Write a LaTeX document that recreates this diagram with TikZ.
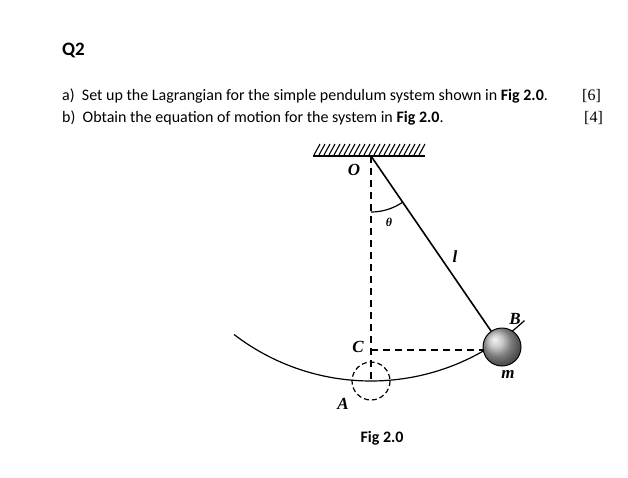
\documentclass[tikz,border=0pt]{standalone}
\usepackage{fontspec}
\setmainfont{Carlito}
\newfontfamily\serifc{Liberation Serif}
\begin{document}
\begin{tikzpicture}[x=1pt,y=-1pt,
  lbl/.style={font=\serifc\bfseries\itshape\fontsize{17}{17}\selectfont},
  txt/.style={anchor=west,font=\fontsize{16}{18}\selectfont,inner sep=0pt}]
\useasboundingbox (0,0) rectangle (628,477);
\node[txt,font=\fontsize{19}{20}\selectfont\bfseries] (q) at (62,50) {Q2};
\node[txt] (a) at (62,96) {a)\ \ Set up the Lagrangian for the simple pendulum system shown in \textbf{Fig 2.0}.};
\node[txt] (b) at (62,118) {b)\ \ Obtain the equation of motion for the system in \textbf{Fig 2.0}.};
\node[txt,font=\serifc\fontsize{16}{18}\selectfont] (m6) at (582,96) {[6]};
\node[txt,font=\serifc\fontsize{16}{18}\selectfont] (m4) at (584,118) {[4]};
% ceiling
\coordinate (O) at (371,156);
\draw[line width=1.6pt] (313,156) -- (425,156);
\foreach \i in {0,...,21} \draw[line width=1.1pt] (314+5*\i,155) -- (320+5*\i,144);
% dashed vertical
\coordinate (Cp) at (371,350);
\coordinate (A) at (371,381);
\coordinate (B) at (502,347);
\draw[dash pattern=on 7pt off 5pt,line width=1.2pt] (O) -- (A);
\draw[dash pattern=on 7pt off 5pt,line width=1.2pt] (Cp) -- (483,350);
% path arc
\draw[line width=1.2pt] (O) ++(127.5:225) arc[start angle=127.5,end angle=47,radius=225];
% string
\draw[line width=1.6pt] (O) -- (B);
% angle
\draw[line width=1.2pt] (O) ++(90:56) arc[start angle=90,end angle=55.6,radius=56];
% ball
\shade[ball color=gray!60] (B) circle (19);
\draw[line width=1pt] (B) circle (19);
\draw[dash pattern=on 5pt off 3pt,line width=1.2pt] (A) circle (19);
% labels
\node[lbl] (lO) at (354,170) {O};
\node[lbl,font=\serifc\bfseries\itshape\fontsize{12}{12}\selectfont] (lt) at (389,222) {θ};
\node[lbl] (ll) at (455,257) {l};
\node[lbl] (lB) at (515,319) {B};
\node[lbl] (lC) at (358,347) {C};
\node[lbl] (lA) at (343,404) {A};
\node[lbl] (lm) at (508,374) {m};
\node[font=\fontsize{16}{18}\selectfont\bfseries] (fig) at (382,438) {Fig 2.0};
\end{tikzpicture}
\end{document}
